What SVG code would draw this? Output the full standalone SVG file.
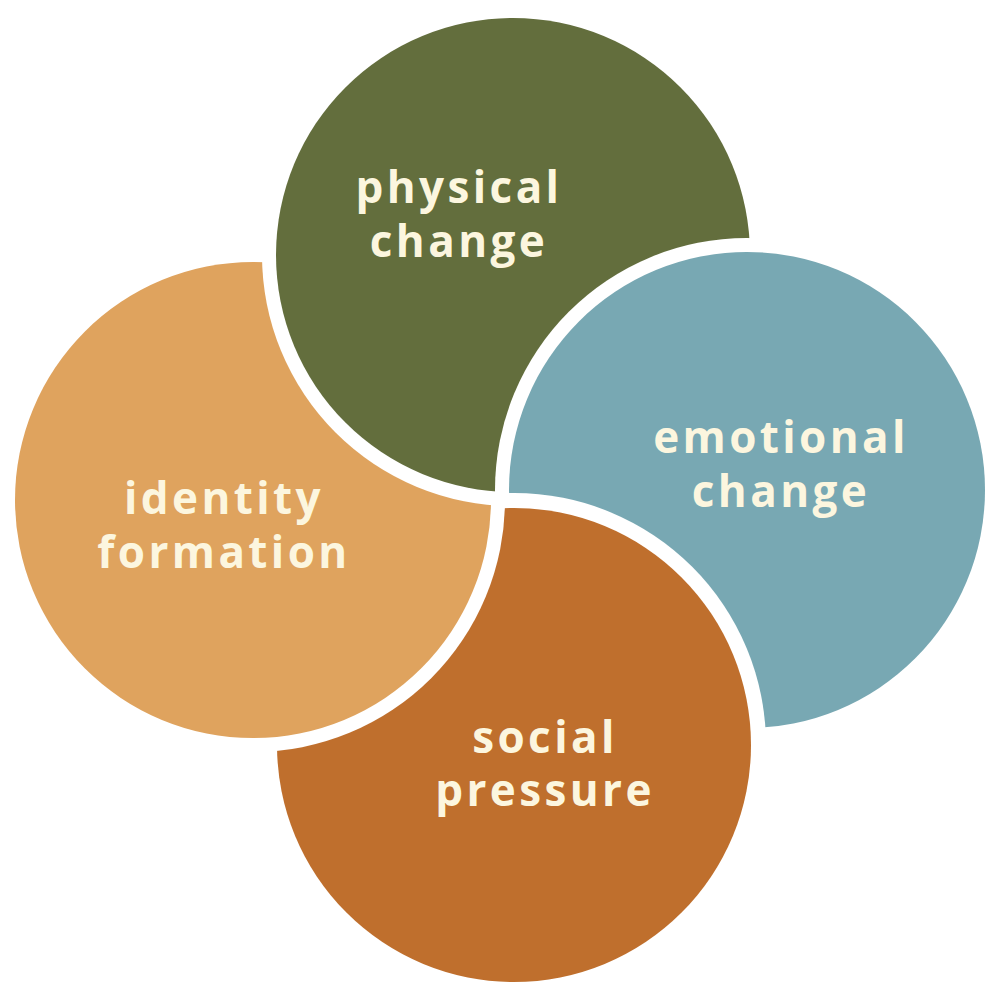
<svg xmlns="http://www.w3.org/2000/svg" width="1000" height="1000" viewBox="0 0 1000 1000">
  <style>
    .lbl { font-family: "Open Sans", "Noto Sans", sans-serif; font-weight: 700; font-size: 44px; fill: #fcf6df; text-anchor: middle; letter-spacing: 3.4px; }
  </style>
  <defs>
    <mask id="mGreen" maskUnits="userSpaceOnUse" x="0" y="0" width="1000" height="1000">
      <rect width="1000" height="1000" fill="#fff"/>
      <circle cx="747" cy="490" r="252" fill="#000"/>
    </mask>
    <mask id="mTeal" maskUnits="userSpaceOnUse" x="0" y="0" width="1000" height="1000">
      <rect width="1000" height="1000" fill="#fff"/>
      <circle cx="514" cy="745" r="252" fill="#000"/>
    </mask>
    <mask id="mSocial" maskUnits="userSpaceOnUse" x="0" y="0" width="1000" height="1000">
      <rect width="1000" height="1000" fill="#fff"/>
      <circle cx="253" cy="500" r="252" fill="#000"/>
    </mask>
    <mask id="mIdentity" maskUnits="userSpaceOnUse" x="0" y="0" width="1000" height="1000">
      <rect width="1000" height="1000" fill="#fff"/>
      <circle cx="513" cy="255" r="251" fill="#000"/>
    </mask>
  </defs>
  <rect width="1000" height="1000" fill="#fff"/>
  <g id="node-physical">
    <circle cx="513" cy="255" r="237" fill="#636e3d" mask="url(#mGreen)"/>
    <text class="lbl" x="459" y="203">physical</text>
    <text class="lbl" x="459" y="257">change</text>
  </g>
  <g id="node-emotional">
    <circle cx="747" cy="490" r="238" fill="#78a8b3" mask="url(#mTeal)"/>
    <text class="lbl" x="781" y="453">emotional</text>
    <text class="lbl" x="781" y="507">change</text>
  </g>
  <g id="node-social">
    <circle cx="514" cy="745" r="237" fill="#bf6f2d" mask="url(#mSocial)"/>
    <text class="lbl" x="545" y="753">social</text>
    <text class="lbl" x="545" y="806">pressure</text>
  </g>
  <g id="node-identity">
    <circle cx="253" cy="500" r="238" fill="#dfa35e" mask="url(#mIdentity)"/>
    <text class="lbl" x="224" y="514">identity</text>
    <text class="lbl" x="224" y="568">formation</text>
  </g>
  <g id="connectors"></g>
</svg>
